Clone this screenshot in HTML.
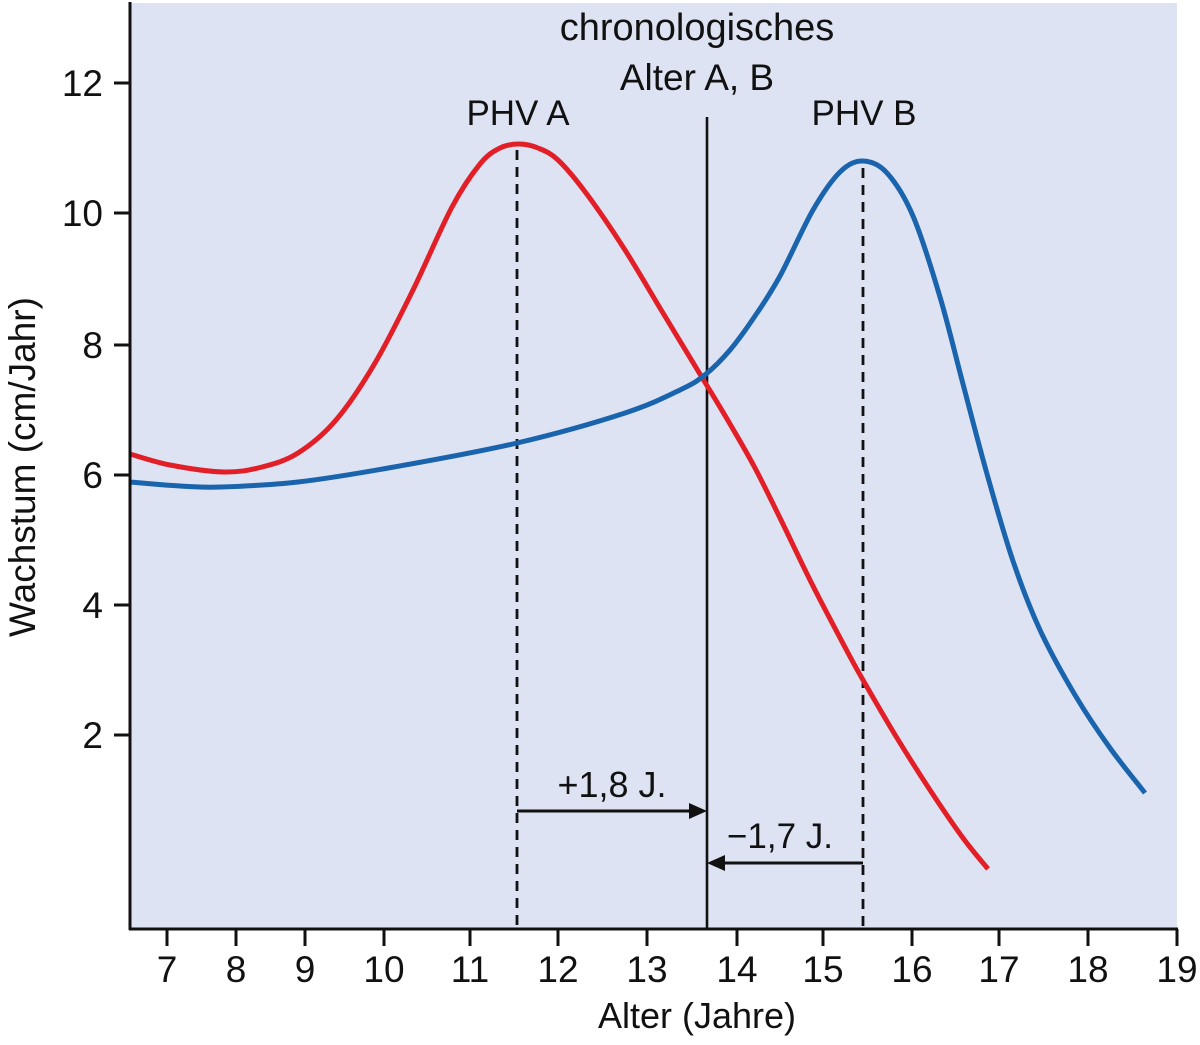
<!DOCTYPE html>
<html>
<head>
<meta charset="utf-8">
<style>
html,body{margin:0;padding:0;background:#fff;}
svg{display:block;}
text{font-family:"Liberation Sans",Arial,sans-serif;fill:#111;}
</style>
</head>
<body>
<svg id="c" width="1200" height="1045" viewBox="0 0 1200 1045" xmlns="http://www.w3.org/2000/svg">
  <!-- plot background -->
  <rect x="131" y="3" width="1046" height="926" fill="#dde3f3"/>

  <!-- dashed PHV lines -->
  <line x1="517" y1="150" x2="517" y2="928" stroke="#111" stroke-width="2.8" stroke-dasharray="10,7"/>
  <line x1="863" y1="168" x2="863" y2="928" stroke="#111" stroke-width="2.8" stroke-dasharray="10,7"/>

  <!-- chronological age line -->
  <line x1="707" y1="117" x2="707" y2="929" stroke="#111" stroke-width="2.6"/>

  <!-- curves -->
  <path id="red" fill="none" stroke="#e21f26" stroke-width="5" stroke-linecap="butt" stroke-linejoin="round"
    d="M130,454 L170,465 L224,472 L262,467 L298,453 L336,420 L375,363 L413,290 L452,207 L480,164 L500,148 L519,144 L538,148 L558,160 L586,193 L625,250 L663,313 L706,384 L730,424 L755,468 L780,518 L813,586 L847,651 L863,680 L897,738 L930,790 L963,838 L988,869"/>
  <path id="blue" fill="none" stroke="#1a64ad" stroke-width="5" stroke-linecap="butt" stroke-linejoin="round"
    d="M130,482 L180,486 L221,487 L298,482 L394,467 L517,443 L625,413 L682,389 L706,374 L730,350 L755,316 L780,276 L813,210 L840,172 L863,161 L887,173 L913,216 L940,297 L963,384 L987,474 L1013,561 L1040,630 L1075,695 L1110,748 L1145,793"/>

  <!-- arrows -->
  <line x1="517" y1="811" x2="692" y2="811" stroke="#111" stroke-width="3"/>
  <polygon points="707,811 689,803 689,819" fill="#111"/>
  <line x1="863" y1="863" x2="722" y2="863" stroke="#111" stroke-width="3"/>
  <polygon points="707,863 725,855 725,871" fill="#111"/>

  <!-- axes -->
  <line x1="130" y1="2" x2="130" y2="930" stroke="#111" stroke-width="3"/>
  <line x1="129" y1="929" x2="1178" y2="929" stroke="#111" stroke-width="3"/>

  <!-- y ticks -->
  <g stroke="#111" stroke-width="3">
    <line x1="114" y1="83" x2="130" y2="83"/>
    <line x1="114" y1="213" x2="130" y2="213"/>
    <line x1="114" y1="345" x2="130" y2="345"/>
    <line x1="114" y1="475" x2="130" y2="475"/>
    <line x1="114" y1="605" x2="130" y2="605"/>
    <line x1="114" y1="735" x2="130" y2="735"/>
  </g>
  <g font-size="37" text-anchor="end">
    <text x="103" y="96">12</text>
    <text x="103" y="226">10</text>
    <text x="103" y="358">8</text>
    <text x="103" y="488">6</text>
    <text x="103" y="618">4</text>
    <text x="103" y="748">2</text>
  </g>

  <!-- x ticks -->
  <g stroke="#111" stroke-width="3">
    <line x1="167" y1="929" x2="167" y2="946"/>
    <line x1="236" y1="929" x2="236" y2="946"/>
    <line x1="305" y1="929" x2="305" y2="946"/>
    <line x1="384" y1="929" x2="384" y2="946"/>
    <line x1="470" y1="929" x2="470" y2="946"/>
    <line x1="558" y1="929" x2="558" y2="946"/>
    <line x1="647" y1="929" x2="647" y2="946"/>
    <line x1="737" y1="929" x2="737" y2="946"/>
    <line x1="823" y1="929" x2="823" y2="946"/>
    <line x1="912" y1="929" x2="912" y2="946"/>
    <line x1="999" y1="929" x2="999" y2="946"/>
    <line x1="1088" y1="929" x2="1088" y2="946"/>
    <line x1="1177" y1="929" x2="1177" y2="946"/>
  </g>
  <g font-size="37" text-anchor="middle">
    <text x="167" y="982">7</text>
    <text x="236" y="982">8</text>
    <text x="305" y="982">9</text>
    <text x="384" y="982">10</text>
    <text x="470" y="982">11</text>
    <text x="558" y="982">12</text>
    <text x="647" y="982">13</text>
    <text x="737" y="982">14</text>
    <text x="823" y="982">15</text>
    <text x="912" y="982">16</text>
    <text x="999" y="982">17</text>
    <text x="1088" y="982">18</text>
    <text x="1177" y="982">19</text>
  </g>

  <!-- axis titles -->
  <text x="697" y="1028" font-size="36" text-anchor="middle">Alter (Jahre)</text>
  <text transform="translate(35,467) rotate(-90)" font-size="37" text-anchor="middle">Wachstum (cm/Jahr)</text>

  <!-- annotations -->
  <text x="697" y="40" font-size="38" text-anchor="middle">chronologisches</text>
  <text x="697" y="90" font-size="37" text-anchor="middle">Alter A, B</text>
  <text x="518" y="125" font-size="35" text-anchor="middle">PHV A</text>
  <text x="864" y="125" font-size="35" text-anchor="middle">PHV B</text>
  <text x="612" y="797" font-size="36" text-anchor="middle">+1,8 J.</text>
  <text x="780" y="848" font-size="35" text-anchor="middle">−1,7 J.</text>
</svg>
<script>
(function(){
  function smooth(id){
    var el=document.getElementById(id);
    var d=el.getAttribute('d');
    var nums=d.match(/-?\d+(\.\d+)?/g).map(Number);
    var p=[];
    for(var i=0;i<nums.length;i+=2)p.push([nums[i],nums[i+1]]);
    var s='M'+p[0][0]+','+p[0][1];
    for(var i=0;i<p.length-1;i++){
      var p0=p[i-1]||p[i],p1=p[i],p2=p[i+1],p3=p[i+2]||p[i+1];
      var c1x=p1[0]+(p2[0]-p0[0])/6,c1y=p1[1]+(p2[1]-p0[1])/6;
      var c2x=p2[0]-(p3[0]-p1[0])/6,c2y=p2[1]-(p3[1]-p1[1])/6;
      s+=' C'+c1x.toFixed(1)+','+c1y.toFixed(1)+' '+c2x.toFixed(1)+','+c2y.toFixed(1)+' '+p2[0]+','+p2[1];
    }
    el.setAttribute('d',s);
  }
  try{smooth('red');smooth('blue');}catch(e){}
})();
</script>
</body>
</html>
